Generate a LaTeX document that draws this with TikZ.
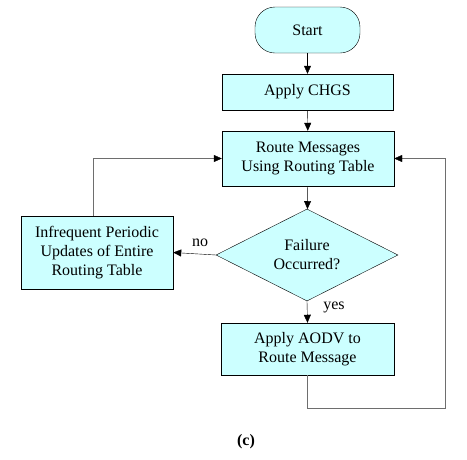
\documentclass[tikz,border=0pt]{standalone}
\usepackage{fontspec}
\setmainfont{Liberation Serif}
\usetikzlibrary{shapes.geometric, arrows.meta, positioning}

\definecolor{boxfill}{RGB}{204,255,255}
\definecolor{loopgray}{RGB}{110,110,110}

\begin{document}
\begin{tikzpicture}[
    x=1pt, y=-1pt,
    box/.style={draw, fill=boxfill, align=center, inner sep=2pt,
      font=\fontsize{16}{19}\selectfont},
    startbox/.style={box, rounded corners=20pt, minimum width=105pt, minimum height=46pt},
    decision/.style={box, diamond, aspect=2, inner sep=0pt, minimum width=182pt, minimum height=92pt},
    arr/.style={-{Triangle[length=8pt, width=7pt]}, draw=black},
    loopline/.style={draw=loopgray, -{Triangle[length=8pt, width=7pt, color=black]}},
    lbl/.style={font=\fontsize{16}{19}\selectfont, inner sep=1pt}
  ]

    \useasboundingbox (0,0) rectangle (467,459);

    %% -- main column --
    \node[startbox] (start) at (307.5, 30) {Start};
    \node[box, minimum width=171pt, minimum height=36pt] (chgs) at (307.5, 92) {Apply CHGS};
    \node[box, minimum width=172pt, minimum height=55pt] (route) at (308, 158.5)
      {Route Messages\\Using Routing Table};
    \node[decision] (fail) at (307, 255) {Failure\\Occurred?};
    \node[box, minimum width=173pt, minimum height=52pt] (aodv) at (307.5, 349)
      {Apply AODV to\\Route Message};

    %% -- side branch --
    \node[box, minimum width=152pt, minimum height=73pt] (upd) at (97, 252.5)
      {Infrequent Periodic\\Updates of Entire\\Routing Table};

    \coordinate (loopc) at (445, 408);

    %% -- arrows --
    \draw[arr] (start) -- (chgs);
    \draw[arr] (chgs) -- (route);
    \draw[arr] (route) -- (fail);
    \draw[arr] (fail.west) -- (upd.east);
    \node[lbl] (nolbl) at (200, 243) {no};
    \draw[arr] (fail.south) -- (aodv.north);
    \node[lbl] (yeslbl) at (334, 307) {yes};

    %% -- feedback lines --
    \draw[loopline] ([xshift=-4pt]upd.north) |- (route.west);
    \draw[loopline] (aodv.south) |- (loopc) |- (route.east);

    %% -- caption --
    \node[font=\fontsize{16}{19}\selectfont\bfseries] (cap) at (246, 442) {(c)};

\end{tikzpicture}
\end{document}
